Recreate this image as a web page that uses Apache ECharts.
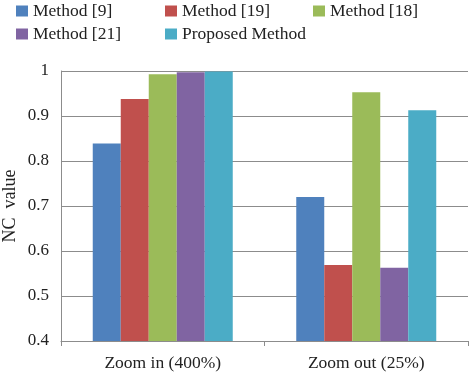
<!DOCTYPE html>
<html>
<head>
<meta charset="utf-8">
<script src="https://cdn.jsdelivr.net/npm/echarts@6/dist/echarts.min.js"></script>
<style>
  html, body { margin: 0; padding: 0; background: #fff; }
  #main { width: 474px; height: 375px; }
</style>
</head>
<body>
<div id="main"></div>
<script>
const categories = ['Zoom in (400%)', 'Zoom out (25%)'];
const methodNames = ['Method [9]', 'Method [19]', 'Method [18]', 'Method [21]', 'Proposed Method'];
const method9 = [0.839, 0.720];
const method19 = [0.938, 0.569];
const method18 = [0.993, 0.953];
const method21 = [0.997, 0.563];
const proposed = [0.999, 0.913];
const colors = ['#4F81BD', '#C0504D', '#9BBB59', '#8064A2', '#4BACC6'];

const allValues = [method9, method19, method18, method21, proposed];
const font = 'Liberation Serif';

// legend laid out in fixed columns like the original
const legendPos = [[16, 2], [165, 2], [313, 2], [16, 25], [165, 25]];

let chart = echarts.init(document.getElementById('main'));

let option = {
  animation: false,
  color: colors,
  legend: methodNames.map((n, i) => ({
    data: [n],
    left: legendPos[i][0],
    top: legendPos[i][1],
    itemWidth: 12,
    itemHeight: 11,
    icon: 'rect',
    textStyle: { fontFamily: font, fontSize: 17.5, color: '#222' },
    padding: 0
  })),
  grid: { left: 61, right: 6, top: 71, bottom: 34, outerBoundsMode: 'none' },
  xAxis: {
    type: 'category',
    data: categories,
    axisLine: { lineStyle: { color: '#8c8c8c' } },
    axisTick: { show: true, length: 5, lineStyle: { color: '#8c8c8c' } },
    axisLabel: { fontFamily: font, fontSize: 17.5, color: '#222', margin: 13 }
  },
  yAxis: {
    type: 'value',
    min: 0.4,
    max: 1,
    interval: 0.1,
    name: 'NC  value',
    nameLocation: 'middle',
    nameGap: 42,
    nameMoveOverlap: false,
    nameTextStyle: { fontFamily: font, fontSize: 18, color: '#222' },
    axisLine: { show: true, lineStyle: { color: '#8c8c8c' } },
    axisTick: { show: false },
    splitLine: { lineStyle: { color: '#8c8c8c' } },
    axisLabel: {
      fontFamily: font, fontSize: 17, color: '#222', margin: 12,
      formatter: v => String(Math.round(v * 10) / 10)
    }
  },
  series: methodNames.map((n, i) => ({
    name: n,
    type: 'bar',
    data: allValues[i],
    barWidth: 28,
    barGap: '0%'
  }))
};

chart.setOption(option);
</script>
</body>
</html>
